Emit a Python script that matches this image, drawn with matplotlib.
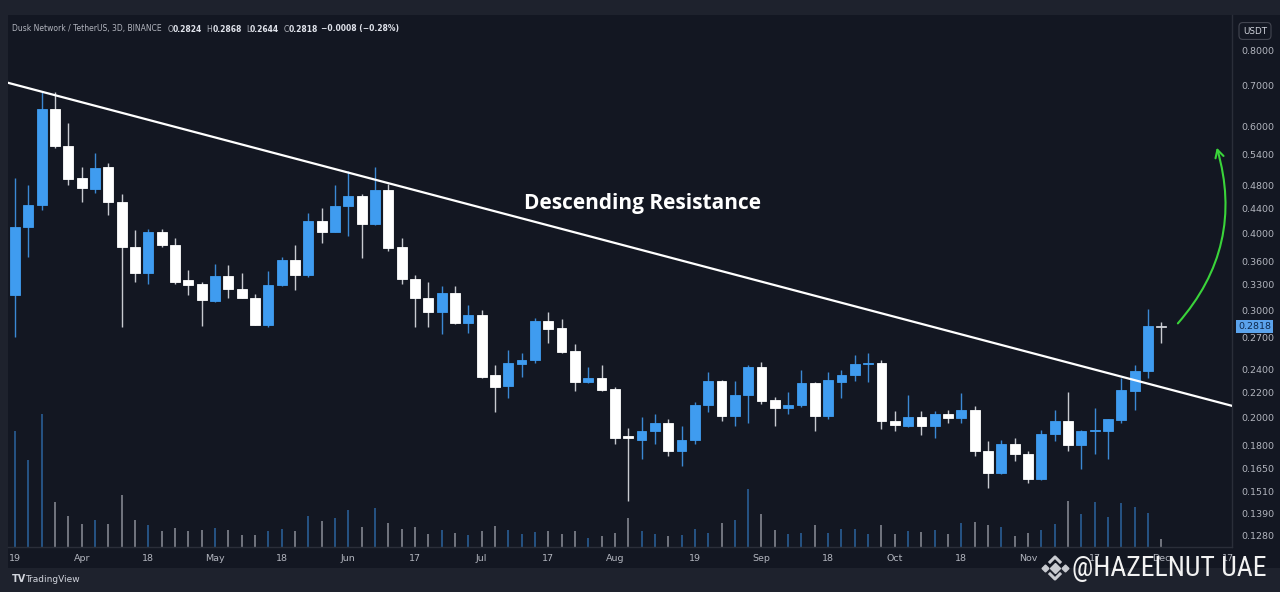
import matplotlib
matplotlib.use("Agg")
import matplotlib.pyplot as plt
import numpy as np
from matplotlib.ticker import NullLocator

# --- data: DUSK/USDT 3D candles -----------------------------------------------

opens = [0.3175, 0.411, 0.445, 0.640, 0.556, 0.493, 0.474, 0.515, 0.451, 0.380,
         0.345, 0.403, 0.383, 0.336, 0.331, 0.310, 0.341, 0.325, 0.314, 0.284,
         0.330, 0.362, 0.342, 0.420, 0.403, 0.444, 0.461, 0.415, 0.472, 0.380,
         0.337, 0.314, 0.298, 0.320, 0.286, 0.294, 0.235, 0.225, 0.245, 0.248,
         0.288, 0.280, 0.257, 0.229, 0.232, 0.2227, 0.1865, 0.184, 0.190, 0.196,
         0.176, 0.184, 0.2096, 0.2295, 0.201, 0.218, 0.242, 0.2136, 0.207, 0.2096,
         0.2275, 0.201, 0.229, 0.235, 0.2445, 0.246, 0.197, 0.194, 0.200, 0.194,
         0.203, 0.1994, 0.206, 0.176, 0.162, 0.181, 0.174, 0.1586, 0.188, 0.197,
         0.180, 0.190, 0.190, 0.198, 0.221, 0.238, 0.2824]

highs = [0.494, 0.480, 0.684, 0.684, 0.607, 0.515, 0.543, 0.522, 0.464, 0.406,
         0.407, 0.408, 0.393, 0.349, 0.334, 0.357, 0.356, 0.345, 0.319, 0.347,
         0.367, 0.383, 0.433, 0.440, 0.480, 0.506, 0.464, 0.515, 0.483, 0.393,
         0.342, 0.333, 0.329, 0.328, 0.306, 0.300, 0.244, 0.258, 0.255, 0.291,
         0.298, 0.290, 0.2635, 0.242, 0.244, 0.224, 0.1925, 0.200, 0.203, 0.199,
         0.194, 0.212, 0.237, 0.230, 0.2295, 0.244, 0.247, 0.216, 0.220, 0.239,
         0.229, 0.237, 0.239, 0.253, 0.255, 0.248, 0.205, 0.218, 0.205, 0.205,
         0.206, 0.219, 0.209, 0.183, 0.184, 0.185, 0.176, 0.191, 0.206, 0.220,
         0.191, 0.207, 0.199, 0.232, 0.244, 0.301, 0.2868]

lows = [0.271, 0.367, 0.4375, 0.552, 0.481, 0.451, 0.467, 0.429, 0.281, 0.333,
        0.331, 0.381, 0.331, 0.317, 0.282, 0.3096, 0.314, 0.3137, 0.2835, 0.281,
        0.329, 0.3235, 0.340, 0.386, 0.403, 0.396, 0.3655, 0.413, 0.375, 0.331,
        0.281, 0.281, 0.274, 0.285, 0.275, 0.232, 0.204, 0.215, 0.233, 0.246,
        0.2645, 0.255, 0.221, 0.228, 0.221, 0.181, 0.146, 0.171, 0.181, 0.173,
        0.1665, 0.181, 0.204, 0.1976, 0.194, 0.196, 0.2105, 0.194, 0.203, 0.208,
        0.190, 0.199, 0.215, 0.2295, 0.229, 0.1915, 0.190, 0.193, 0.187, 0.185,
        0.196, 0.196, 0.173, 0.153, 0.1616, 0.170, 0.156, 0.158, 0.183, 0.176,
        0.1645, 0.174, 0.1707, 0.196, 0.206, 0.232, 0.2644]

closes = [0.411, 0.446, 0.640, 0.556, 0.492, 0.476, 0.513, 0.451, 0.380, 0.345,
          0.403, 0.383, 0.334, 0.330, 0.311, 0.341, 0.325, 0.314, 0.284, 0.330,
          0.362, 0.342, 0.420, 0.403, 0.444, 0.461, 0.415, 0.472, 0.379, 0.337,
          0.314, 0.298, 0.320, 0.286, 0.294, 0.233, 0.224, 0.246, 0.248, 0.288,
          0.279, 0.256, 0.229, 0.232, 0.222, 0.185, 0.185, 0.190, 0.196, 0.176,
          0.184, 0.210, 0.2295, 0.201, 0.218, 0.242, 0.213, 0.207, 0.210, 0.2275,
          0.201, 0.230, 0.235, 0.245, 0.246, 0.197, 0.1944, 0.200, 0.194, 0.203,
          0.1994, 0.206, 0.176, 0.162, 0.181, 0.174, 0.1586, 0.188, 0.197, 0.180,
          0.190, 0.191, 0.1986, 0.222, 0.238, 0.2826, 0.2818]

# volume in arbitrary units (only the relative height is visible)
volumes = [348, 260, 398, 135, 93, 70, 80, 70, 155, 82,
           67, 48, 57, 47, 52, 58, 52, 37, 37, 48,
           55, 47, 93, 77, 88, 112, 61, 117, 73, 55,
           61, 40, 50, 43, 37, 48, 64, 52, 40, 45,
           49, 40, 49, 27, 32, 42, 87, 47, 40, 33,
           37, 55, 43, 73, 80, 175, 100, 50, 40, 42,
           65, 42, 53, 53, 40, 67, 40, 47, 45, 52,
           40, 73, 75, 65, 60, 33, 42, 52, 70, 138,
           100, 135, 90, 133, 120, 103, 25]

date_tick_pos = [0, 5, 10, 15, 20, 25, 30, 35, 40, 45, 51, 56, 61, 66, 71, 76, 81, 86, 91]
date_tick_labels = ["19", "Apr", "18", "May", "18", "Jun", "17", "Jul", "17", "Aug",
                    "19", "Sep", "18", "Oct", "18", "Nov", "17", "Dec", "17"]
price_ticks = [0.8, 0.7, 0.6, 0.54, 0.48, 0.44, 0.40, 0.36, 0.33, 0.30, 0.27,
               0.24, 0.22, 0.20, 0.18, 0.165, 0.151, 0.139, 0.128]

# descending resistance line (candle index, price)
trend_idx = [-0.53, 91.3]
trend_price = [0.707, 0.209]

# projected breakout arrow (candle index, price)
arrow_start = (87.1, 0.283)
arrow_end = (90.1, 0.559)

# --- style ---------------------------------------------------------------------

BG = "#131722"
FRAME = "#1e222d"
GRID_LINE = "#2a2e39"
TXT = "#b2b5be"
UP = "#3f9cf0"
UP_WICK = "#3b88d4"
DOWN = "#ffffff"
DOWN_WICK = "#c8cad0"

W, H = 1280, 592


def frac(x0, y0, x1, y1):
    """pixel box (top-left origin) -> figure fraction rect"""
    return [x0 / W, 1 - y1 / H, (x1 - x0) / W, (y1 - y0) / H]


fig = plt.figure(figsize=(W / 100, H / 100), dpi=100, facecolor=FRAME)

# dark chart panel (plot + both axes strips)
panel = fig.add_axes(frac(8, 15, 1280, 568))
panel.set_facecolor(BG)
panel.set_xticks([])
panel.set_yticks([])
for s in panel.spines.values():
    s.set_visible(False)

ax_vol = fig.add_axes(frac(8, 15, 1232, 547))
ax = fig.add_axes(frac(8, 15, 1232, 547), sharex=ax_vol)
ax_vol.set_facecolor(BG)
ax.patch.set_visible(False)

o = np.array(opens)
h = np.array(highs)
l = np.array(lows)
c = np.array(closes)
v = np.array(volumes)
x = np.arange(len(o))
up = c >= o

# volume
vol_colors = np.where(up, "#2b639f", "#8c8f98")
ax_vol.vlines(x, 0, v, colors=vol_colors, lw=1.1)
ax_vol.set_ylim(0, v.max() * 532 / 133)
ax_vol.set_yticks([])
ax_vol.tick_params(axis="x", length=0, labelbottom=False)
for s in ax_vol.spines.values():
    s.set_visible(False)

# candles
body_lo = np.minimum(o, c)
body_hi = np.maximum(o, c)
body_cols = np.where(up, UP, DOWN)
wick_cols = np.where(up, UP_WICK, DOWN_WICK)
body_cols[-1] = "#d0d2d8"
ax.vlines(x, l, h, colors=wick_cols, lw=1.0, zorder=2)
ax.bar(x, body_hi - body_lo, bottom=body_lo, width=0.74, color=body_cols,
       edgecolor=body_cols, linewidth=0.6, zorder=3)

ax.set_yscale("log")
ax.set_ylim(0.1227, 0.913)
ax.set_xlim(-0.53, 91.3)

ax.yaxis.tick_right()
ax.set_yticks(price_ticks)
ax.set_yticklabels([f"{p:.4f}" for p in price_ticks])
ax.yaxis.set_minor_locator(NullLocator())
ax.tick_params(axis="y", length=0, pad=7, labelsize=6.8, labelcolor=TXT)
ax.set_xticks(date_tick_pos)
ax.set_xticklabels(date_tick_labels)
ax.tick_params(axis="x", length=0, pad=5, labelsize=6.8, labelcolor=TXT)
for name, s in ax.spines.items():
    if name in ("right", "bottom"):
        s.set_color(GRID_LINE)
        s.set_linewidth(1.0)
    else:
        s.set_visible(False)

# resistance line + annotations
ax.plot(trend_idx, trend_price, color="white", lw=1.6, zorder=4)
ax.text(47.1, 0.449, "Descending Resistance", ha="center", va="center",
        color="white", fontsize=15, fontweight="bold", family="Open Sans", zorder=5)
ax.annotate("", xy=arrow_end, xytext=arrow_start,
            arrowprops=dict(arrowstyle="->,head_length=0.55,head_width=0.3",
                            color="#3ad43a", lw=1.5,
                            connectionstyle="arc3,rad=0.28"),
            zorder=5)

# last price tag on the scale
ax.annotate(f"{closes[-1]:.4f}", xy=(1, closes[-1]), xycoords=("axes fraction", "data"),
            xytext=(6, 0), textcoords="offset pixels", ha="left", va="center",
            fontsize=6.8, color="#0f2a4d", annotation_clip=False, zorder=6,
            bbox=dict(boxstyle="square,pad=0.25", fc="#5ba3ec", ec="none"))

# --- overlay: header, logo, watermark -----------------------------------------

ov = fig.add_axes([0, 0, 1, 1])
ov.axis("off")
ov.set_xlim(0, W)
ov.set_ylim(H, 0)
ov.set_zorder(10)

fig.text(1255 / W, 1 - 31 / H, "USDT", ha="center", va="center", fontsize=6.3,
         color="#d1d4dc", bbox=dict(boxstyle="round,pad=0.45", fc=BG, ec="#434651", lw=0.8))

chg = closes[-1] - closes[-2]
header = [("Dusk Network / TetherUS, 3D, BINANCE", TXT, 0, "normal"),
          ("O", TXT, 4, "normal"), (f"{opens[-1]:.4f}", "#e0e3eb", 0, "bold"),
          ("H", TXT, 3, "normal"), (f"{highs[-1]:.4f}", "#e0e3eb", 0, "bold"),
          ("L", TXT, 3, "normal"), (f"{lows[-1]:.4f}", "#e0e3eb", 0, "bold"),
          ("C", TXT, 3, "normal"), (f"{closes[-1]:.4f}", "#e0e3eb", 0, "bold"),
          (f"\u2212{abs(chg):.4f} (\u2212{abs(chg) / closes[-2] * 100:.2f}%)", "#e0e3eb", 2, "semibold")]
HS = 5.5
prev = ov.text(12, 29, header[0][0], color=header[0][1], fontsize=HS, va="center", ha="left")
for s, col, gap, wt in header[1:]:
    prev = ov.annotate(s, xy=(1, 0.5), xycoords=prev, xytext=(gap, 0),
                       textcoords="offset points", va="center", ha="left",
                       color=col, fontsize=HS, fontweight=wt)

ov.text(12, 579, "TV", color="#d1d4dc", fontsize=7, fontweight="bold", va="center")
ov.text(25, 579, "TradingView", color="#d1d4dc", fontsize=6.5, va="center")

# binance-style mark + handle watermark
mark_col = "#c9cbd1"
ov.plot([1055], [568], marker="D", ms=5, color=mark_col, ls="none")
ov.plot([1045, 1065], [568, 568], marker="D", ms=3.5, color=mark_col, ls="none")
ov.plot([1050, 1055, 1060], [562, 557, 562], color=mark_col, lw=2.2)
ov.plot([1050, 1055, 1060], [574, 579, 574], color=mark_col, lw=2.2)
ov.text(1072, 569, "@HAZELNUT UAE", color="#f2f2f2", fontsize=20,
        family=["Liberation Sans Narrow", "Roboto Condensed", "DejaVu Sans"],
        va="center", ha="left")

fig.savefig("out.png", dpi=100, facecolor=FRAME)
